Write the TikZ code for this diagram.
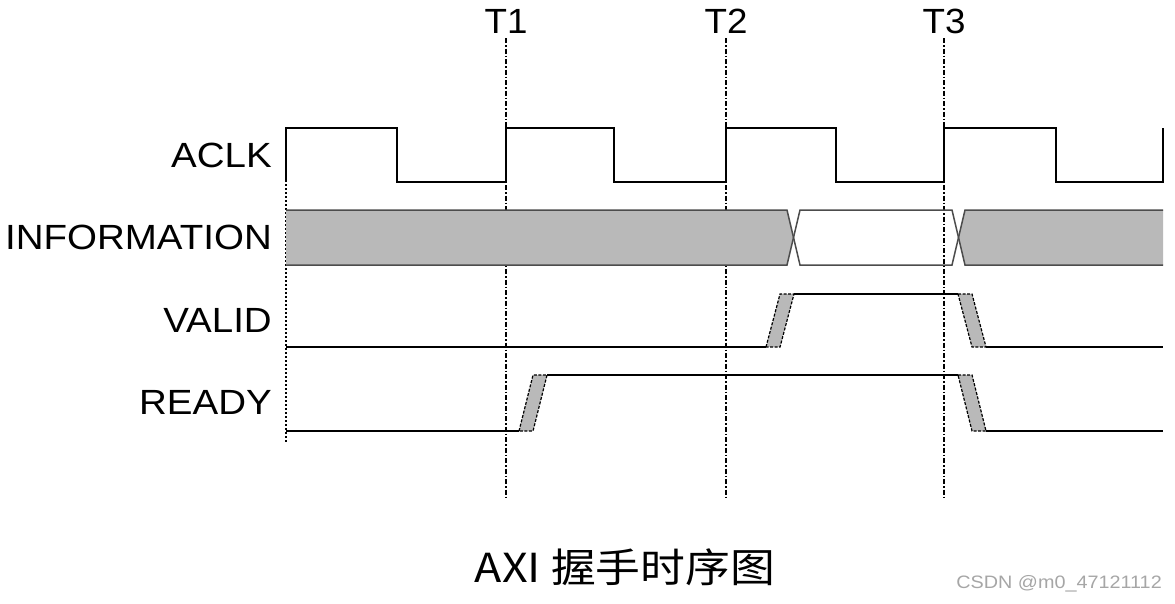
\documentclass[tikz,border=0pt]{standalone}
\usepackage{fontspec}
\setmainfont{Liberation Sans}
\newfontfamily\cjk{Noto Sans CJK SC}
\begin{document}
\begin{tikzpicture}[x=1pt,y=-1pt,
  sig/.style={line width=1.8pt,line join=miter},
  guide/.style={line width=1.2pt,dash pattern=on 5pt off 2pt on 1.5pt off 2pt},
  lbl/.style={font=\fontsize{35}{35}\selectfont,anchor=east,inner sep=0pt,xscale=1.1},
  tlbl/.style={font=\fontsize{35}{35}\selectfont,inner sep=0pt,xscale=1.05},
  slope/.style={fill=gray!55,draw=black,line width=1.2pt,dashed,dash pattern=on 3pt off 1.5pt}]
\useasboundingbox (0,0) rectangle (1175,603);
% guides
\draw[guide,dash pattern=on 2pt off 2pt] (286,128) -- (286,442);
\foreach \x/\n in {506/1,726/2,944/3}{
  \node[tlbl] (t\n) at (\x,21) {T\n};
  \draw[guide] (\x,38) -- (\x,498);
}
% labels
\node[lbl] (aclk) at (272,155) {ACLK};
\node[lbl] (info) at (272,237) {INFORMATION};
\node[lbl] (valid) at (272,320) {VALID};
\node[lbl] (ready) at (272,402) {READY};
% clock
\draw[sig] (286,182) -- (286,128) -- (397,128) -- (397,182) -- (506,182) -- (506,128) -- (614,128) -- (614,182)
  -- (726,182) -- (726,128) -- (836,128) -- (836,182) -- (944,182) -- (944,128) -- (1056,128) -- (1056,182) -- (1163,182) -- (1163,128);
% information bus
\fill[gray!55] (286,210) -- (787,210) -- (793.5,237.5) -- (787,265) -- (286,265) -- cycle;
\fill[gray!55] (1163,210) -- (965,210) -- (958.5,237.5) -- (965,265) -- (1163,265) -- cycle;
\draw[line width=1.5pt,black!70] (286,210) -- (787,210) -- (800,265) -- (952,265) -- (965,210) -- (1163,210);
\draw[line width=1.5pt,black!70] (286,265) -- (787,265) -- (800,210) -- (952,210) -- (965,265) -- (1163,265);
% valid
\draw[sig] (286,347) -- (766,347);
\draw[sig] (794,294) -- (958,294);
\draw[sig] (986,347) -- (1163,347);
\draw[slope] (766,347) -- (780,294) -- (794,294) -- (780,347) -- cycle;
\draw[slope] (958,294) -- (972,294) -- (986,347) -- (972,347) -- cycle;
% ready
\draw[sig] (286,431) -- (519,431);
\draw[sig] (547,375) -- (958,375);
\draw[sig] (986,431) -- (1163,431);
\draw[slope] (519,431) -- (533,375) -- (547,375) -- (533,431) -- cycle;
\draw[slope] (958,375) -- (972,375) -- (986,431) -- (972,431) -- cycle;
% caption
\node[font=\fontsize{40}{40}\selectfont\cjk,inner sep=0pt,xscale=1.12] (cap) at (625,567) {AXI 握手时序图};
\node[font=\fontsize{18}{18}\selectfont,text=gray!70,anchor=east,inner sep=0pt,xscale=1.1] (wm) at (1162,584) {CSDN @m0\_47121112};
\end{tikzpicture}
\end{document}
